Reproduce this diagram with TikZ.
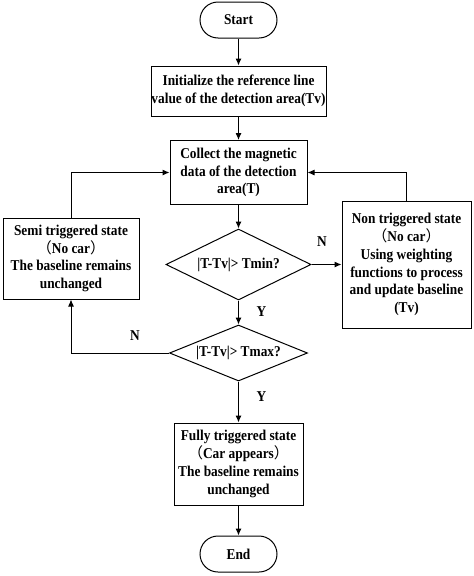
\documentclass[tikz,border=0pt]{standalone}
\usepackage{fontspec}
\setmainfont{Liberation Serif}[FakeStretch=0.89]
\newfontfamily\cjk{Noto Sans CJK SC}
\usetikzlibrary{shapes.geometric,arrows.meta}
\newcommand{\lp}{{\cjk\mdseries （}}
\newcommand{\rp}{{\cjk\mdseries ）}}
\begin{document}
\begin{tikzpicture}[x=1pt,y=-1pt,
  every node/.style={font=\fontsize{15}{17.8}\selectfont\bfseries, align=center, inner sep=0pt},
  box/.style={draw, line width=1pt, rectangle},
  term/.style={draw, line width=1pt, rectangle, rounded corners=18pt, minimum width=77pt, minimum height=36pt},
  dec/.style={draw, line width=1pt, diamond},
  conn/.style={line width=1pt, -{Latex[length=7pt,width=6pt]}},
  lbl/.style={font=\fontsize{15}{16}\selectfont\bfseries}
]
\useasboundingbox (0,0) rectangle (474,576);
\node[term] (start) at (238.5,20) {Start};
\node[box, minimum width=175pt, minimum height=50pt] (init) at (238.5,91) {Initialize the reference line\\value of the detection area(Tv)};
\node[box, minimum width=137pt, minimum height=64pt] (collect) at (238.5,172.5) {Collect the magnetic\\data of the detection\\area(T)};
\node[dec, aspect=2.04, minimum width=145pt, minimum height=71pt] (d1) at (238.5,264.5) {|T-Tv|> Tmin?};
\node[box, minimum width=129pt, minimum height=127pt] (non) at (406.5,264.5) {Non triggered state\\\lp No car\rp\\Using weighting\\functions to process\\and update baseline\\(Tv)};
\node[box, minimum width=136pt, minimum height=81pt] (semi) at (71,258.5) {Semi triggered state\\\lp No car\rp\\The baseline remains\\unchanged};
\node[dec, aspect=2.46, minimum width=138pt, minimum height=56pt] (d2) at (238.5,353) {|T-Tv|> Tmax?};
\node[box, minimum width=129pt, minimum height=82pt] (fully) at (238.5,464) {Fully triggered state\\\lp Car appears\rp\\The baseline remains\\unchanged};
\node[term] (end) at (238.5,554) {End};
\coordinate (rtop) at (406.5,172.5);
\coordinate (ltop) at (71,172.5);
\coordinate (lbot) at (71,353);
\draw[conn] (start) -- (init);
\draw[conn] (init) -- (collect);
\draw[conn] (collect) -- (d1);
\draw[conn] (d1) -- (non);
\draw[conn] (non.north) -- (rtop) -- (collect.east);
\draw[conn] (semi.north) -- (ltop) -- (collect.west);
\draw[conn] (d1) -- (d2);
\draw[conn] (d2.west) -- (lbot) -- (semi.south);
\draw[conn] (d2) -- (fully);
\draw[conn] (fully) -- (end);
\node[lbl] (n1) at (322,241.5) {N};
\node[lbl] (y1) at (261.5,311.5) {Y};
\node[lbl] (n2) at (135,335.5) {N};
\node[lbl] (y2) at (261.5,396.5) {Y};
\end{tikzpicture}
\end{document}
